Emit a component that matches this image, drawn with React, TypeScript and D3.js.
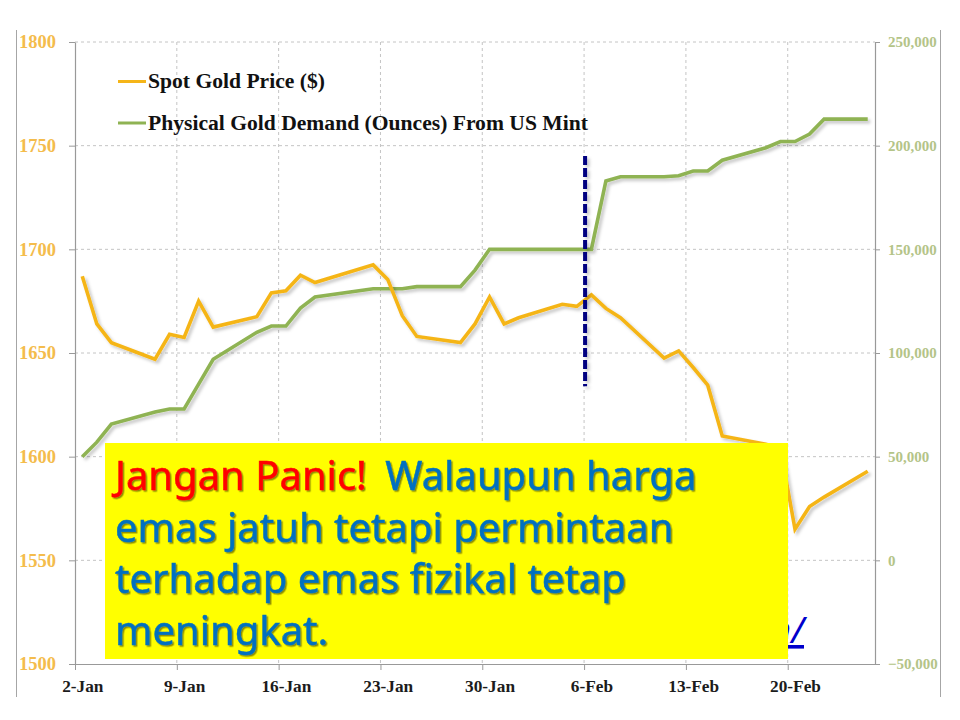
import React, { useEffect, useRef } from 'react';
import * as d3 from 'd3';

const priceDates = ['01-02','01-03','01-04','01-07','01-08','01-09','01-10','01-11','01-14','01-15','01-16','01-17','01-18','01-22','01-23','01-24','01-25','01-28','01-29','01-30','01-31','02-01','02-04','02-05','02-06','02-07','02-08','02-11','02-12','02-13','02-14','02-15','02-18','02-19','02-20','02-21','02-22','02-25'];
const goldPrice = [1687,1664,1655,1647,1659,1657.5,1675,1662.5,1667.5,1679,1680,1687.5,1684,1692.5,1685.5,1668,1658,1655,1664,1677,1664,1667,1673.5,1672.5,1678,1671.5,1667,1647.5,1651,1643,1634.5,1610,1606,1604,1565,1576,1580.5,1593];
const mintDemand = [50000,57000,65750,71500,73000,73000,85000,97000,110000,113000,113000,121700,127000,131000,131000,131000,132000,132000,140000,150000,150000,150000,150000,150000,150000,183000,185000,185000,185500,187800,187800,193000,199000,202000,202000,205600,212800,212800];

const tickDates = ['01-02','01-09','01-16','01-23','01-30','02-06','02-13','02-20'];
const priceTicks = [1500,1550,1600,1650,1700,1750,1800];
const demandTicks = [-50000,0,50000,100000,150000,200000,250000];
const markerDate = '02-06';
const markerPrices = [1745,1634];

const messageLines = [
  [{ text: 'Jangan Panic! ', color: '#ff0000' }, { text: 'Walaupun harga', color: '#0070c0' }],
  [{ text: 'emas jatuh tetapi permintaan', color: '#0070c0' }],
  [{ text: 'terhadap emas fizikal tetap', color: '#0070c0' }],
  [{ text: 'meningkat.', color: '#0070c0' }],
];

const parseDay = d3.utcParse('%Y-%m-%d');
const toDate = (s: string) => parseDay('2013-' + s) as Date;
const HALF_DAY = 12 * 3600 * 1000;

const GOLD = '#f5b518';
const GREEN = '#8fb353';

const App: React.FC = () => {
  const svgRef = useRef<SVGSVGElement>(null);

  useEffect(() => {
    if (!svgRef.current) return;
    const svg = d3.select(svgRef.current);
    svg.selectAll('*').remove();

    const margin = { top: 42, right: 85, bottom: 56, left: 75 };
    const width = 960, height = 720;

    const x = d3.scaleUtc()
      .domain([+toDate('01-02') - HALF_DAY, +toDate('02-25') + HALF_DAY])
      .range([margin.left, width - margin.right]);
    const yPrice = d3.scaleLinear().domain([1500, 1800]).range([height - margin.bottom, margin.top]);
    const yDemand = d3.scaleLinear().domain([-50000, 250000]).range([height - margin.bottom, margin.top]);
    const halfDayPx = x(toDate('01-02')) - margin.left;

    const defs = svg.append('defs');
    const lineShadow = defs.append('filter').attr('id', 'line-shadow')
      .attr('filterUnits', 'userSpaceOnUse').attr('x', 0).attr('y', 0).attr('width', width).attr('height', height);
    lineShadow.append('feDropShadow').attr('dx', 2.5).attr('dy', 2.5).attr('stdDeviation', 1.5).attr('flood-color', '#000').attr('flood-opacity', 0.22);
    const textShadow = defs.append('filter').attr('id', 'text-shadow');
    textShadow.append('feDropShadow').attr('dx', 1.5).attr('dy', 1.5).attr('stdDeviation', 0.7).attr('flood-color', '#000').attr('flood-opacity', 0.45);

    // Outer frame
    svg.selectAll('.frame').data([16.5, 940.5]).enter().append('line')
      .attr('class', 'frame')
      .attr('x1', d => d).attr('x2', d => d)
      .attr('y1', 30).attr('y2', 697)
      .attr('stroke', '#a6a6a6').attr('stroke-width', 1);

    // Grid Lines
    svg.selectAll('.hgrid').data(priceTicks.slice(1)).enter().append('line')
      .attr('class', 'hgrid')
      .attr('x1', margin.left).attr('x2', width - margin.right)
      .attr('y1', d => yPrice(d)).attr('y2', d => yPrice(d))
      .attr('stroke', '#c4c4c4').attr('stroke-dasharray', '3,3');
    svg.selectAll('.vgrid').data(tickDates.slice(1)).enter().append('line')
      .attr('class', 'vgrid')
      .attr('x1', d => x(toDate(d)) - halfDayPx).attr('x2', d => x(toDate(d)) - halfDayPx)
      .attr('y1', margin.top).attr('y2', height - margin.bottom)
      .attr('stroke', '#c4c4c4').attr('stroke-dasharray', '3,3');

    // Axes
    const leftAxis = svg.append('g').attr('transform', `translate(${margin.left},0)`)
      .call(d3.axisLeft(yPrice).tickValues(priceTicks).tickFormat(d3.format('d')).tickSize(6).tickPadding(13).tickSizeOuter(0));
    leftAxis.selectAll('text').attr('fill', '#f4bc4c').style('font-family', '"Liberation Serif"').style('font-size', '18.5px').style('font-weight', 'bold');

    const rightAxis = svg.append('g').attr('transform', `translate(${width - margin.right},0)`)
      .call(d3.axisRight(yDemand).tickValues(demandTicks).tickFormat(d3.format(',')).tickSize(5).tickPadding(8).tickSizeOuter(0));
    rightAxis.selectAll('text').attr('fill', '#b4c488').style('font-family', '"Liberation Serif"').style('font-size', '15px').style('font-weight', 'bold');

    const bottomAxis = svg.append('g').attr('transform', `translate(0,${height - margin.bottom})`)
      .call(d3.axisBottom(x).tickValues(tickDates.map(toDate)).tickFormat(d3.utcFormat('%-d-%b') as any).tickSize(6).tickPadding(10).tickSizeOuter(0));
    bottomAxis.selectAll('.tick line').attr('transform', `translate(${-halfDayPx},0)`);
    bottomAxis.selectAll('text').attr('fill', '#1c1c1c').style('font-family', '"Liberation Serif"').style('font-size', '17.3px').style('font-weight', 'bold');

    [leftAxis, rightAxis, bottomAxis].forEach(a => {
      a.selectAll('.domain').attr('stroke', '#999').attr('stroke-width', 1.2);
      a.selectAll('.tick line').attr('stroke', '#999');
    });

    // The Lines
    const rows = priceDates.map((d, i) => ({ date: toDate(d), price: goldPrice[i], demand: mintDemand[i] }));
    type Row = typeof rows[number];
    const priceLine = d3.line<Row>().x(d => x(d.date)).y(d => yPrice(d.price));
    const demandLine = d3.line<Row>().x(d => x(d.date)).y(d => yDemand(d.demand));

    svg.append('path').datum(rows)
      .attr('fill', 'none').attr('stroke', GREEN).attr('stroke-width', 3.6)
      .attr('filter', 'url(#line-shadow)').attr('d', demandLine);
    svg.append('path').datum(rows)
      .attr('fill', 'none').attr('stroke', GOLD).attr('stroke-width', 3.6)
      .attr('filter', 'url(#line-shadow)').attr('d', priceLine);

    // Dashed marker at the start of the break
    const markerX = x(toDate(markerDate)) - halfDayPx;
    svg.append('line')
      .attr('x1', markerX + 1).attr('x2', markerX + 1)
      .attr('y1', yPrice(markerPrices[0])).attr('y2', yPrice(markerPrices[1]))
      .attr('stroke', '#000080').attr('stroke-width', 4).attr('stroke-dasharray', '9,3')
      .attr('filter', 'url(#line-shadow)');

    // Legend
    const legend = [
      { label: 'Spot Gold Price ($)', color: GOLD, y: 81.5 },
      { label: 'Physical Gold Demand (Ounces) From US Mint', color: GREEN, y: 123 },
    ];
    legend.forEach(l => {
      svg.append('line').attr('x1', 118).attr('x2', 146).attr('y1', l.y).attr('y2', l.y)
        .attr('stroke', l.color).attr('stroke-width', 3);
      svg.append('text').attr('x', 148).attr('y', l.y + 6.5)
        .style('font-family', '"Liberation Serif"').style('font-size', '21.6px').style('font-weight', 'bold')
        .attr('fill', '#111').text(l.label);
    });

    // Link that sticks out from under the note
    svg.append('text').attr('x', 804).attr('y', 643).attr('text-anchor', 'end')
      .style('font-family', '"Noto Sans"').style('font-size', '36px').style('font-style', 'italic')
      .attr('fill', '#0000cc').attr('text-decoration', 'underline').text('n/');

    // Note box
    svg.append('rect').attr('x', 105).attr('y', 443).attr('width', 683).attr('height', 216).attr('fill', '#ffff00');
    const note = svg.append('g').attr('filter', 'url(#text-shadow)')
      .style('font-family', '"Noto Sans"').style('font-size', '40px');
    messageLines.forEach((line, i) => {
      const t = note.append('text').attr('x', 115).attr('y', 490 + i * 51.5);
      line.forEach((s, j) => t.append('tspan').attr('fill', s.color).attr('stroke', s.color).attr('stroke-width', 0.5)
        .attr('dx', j === 1 ? 8 : 0).style('white-space', 'pre').text(s.text));
    });
  }, []);

  return <svg ref={svgRef} width={960} height={720} style={{ position: 'absolute', left: 0, top: 0, background: '#fff' }} />;
};

export default App;
